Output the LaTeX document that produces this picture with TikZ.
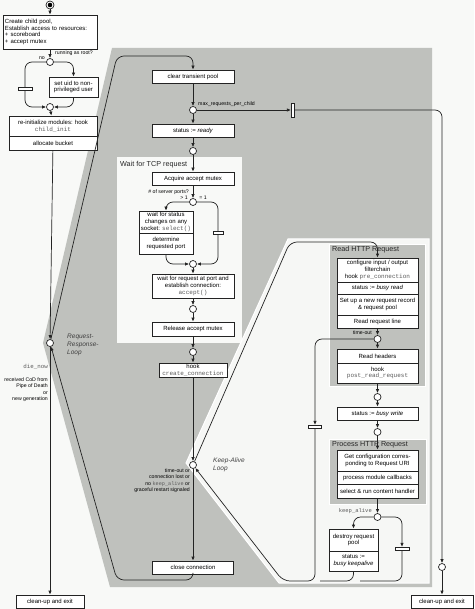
\documentclass[tikz,border=0pt]{standalone}
\usepackage{fontspec}
\setmainfont{Liberation Sans}
\setmonofont{Liberation Mono}
\usetikzlibrary{arrows.meta}
\definecolor{bgc}{RGB}{248,249,247}
\definecolor{rgray}{RGB}{191,193,189}
\definecolor{kawhite}{RGB}{246,247,245}
\definecolor{lnc}{RGB}{35,35,35}
\definecolor{monoc}{RGB}{90,90,90}
\newcommand{\mcode}[1]{{\ttfamily\color{monoc}#1}}
\newcommand{\mkbox}[6]{\node[bx, minimum width={(#4-#2)*1pt}, minimum height={(#5-#3)*1pt}] (#1) at ({(#2+#4)/2},{(#3+#5)/2}) {#6};}
\begin{document}
\begin{tikzpicture}[x=1pt,y=-1pt,
  bx/.style={draw=lnc, fill=white, line width=0.7pt, inner sep=0pt, align=center, font=\fontsize{6}{6.8}\selectfont},
  dec/.style={circle, draw=lnc, fill=white, line width=0.7pt, minimum size=7pt, inner sep=0pt},
  hbar/.style={rectangle, draw=lnc, fill=white, line width=0.6pt, minimum width=14pt, minimum height=3.5pt, inner sep=0pt},
  vbar/.style={rectangle, draw=lnc, fill=white, line width=0.6pt, minimum width=3.5pt, minimum height=14pt, inner sep=0pt},
  con/.style={draw=lnc, line width=0.7pt, rounded corners=7pt},
  arr/.style={con, -{Latex[length=4pt,width=3.4pt]}},
  lbl/.style={font=\fontsize{5.2}{6.4}\selectfont, inner sep=0pt},
  ttl/.style={font=\fontsize{7.2}{8}\selectfont, inner sep=0pt, anchor=west, text=black!85},
  loopl/.style={font=\itshape\fontsize{6.5}{8}\selectfont, inner sep=0pt, anchor=west, text=black!75, align=left}
]
\fill[bgc] (0,0) rectangle (474,609);
\useasboundingbox (0,0) rectangle (474,609);
% regions
\fill[rgray] (112,48) -- (432,48) -- (432,587) -- (110,587) -- (43,343) -- cycle;
\fill[bgc] (117,157) rectangle (242,343);
\filldraw[fill=kawhite, draw=white, line width=1pt] (288,239) -- (429,239) -- (429,583) -- (279,583) -- (186,463) -- cycle;
\filldraw[fill=rgray, draw=white, line width=0.8pt] (329,244) rectangle (425,386);
\filldraw[fill=rgray, draw=white, line width=0.8pt] (329,439) rectangle (426,504);
\node[ttl] (twait) at (120,165) {Wait for TCP request};
\node[ttl] (tread) at (332,250) {Read HTTP Request};
\node[ttl] (tproc) at (332,445) {Process HTTP Request};

% left column
\node[circle, draw=lnc, fill=white, line width=0.7pt, minimum size=8pt, inner sep=0pt] (start) at (50,5) {};
\fill[black] (start.center) circle (2.3);
\node[bx, text width=90pt, align=left, inner xsep=2pt, minimum height=34pt] (create) at (50,32)
  {Create child pool,\\Establish access to resources:\\+ scoreboard\\+ accept mutex};
\node[dec] (rootdec) at (50,62) {};
\node[hbar] (barL) at (25,89) {};
\mkbox{setuid}{49}{77}{98}{97}{set uid to non-\\privileged user}
\node[dec] (merge1) at (50,107) {};
\mkbox{reinit}{9}{116}{97}{136}{re-initialize modules: hook\\\mcode{child\_init}}
\mkbox{alloc}{9}{136}{97}{150}{allocate bucket}
\node[dec] (loopnode) at (50,343) {};
\mkbox{cleanL}{16}{595}{84}{608}{clean-up and exit}

% middle column
\mkbox{clear}{152}{70}{234}{83}{clear transient pool}
\node[dec] (c110) at (193,110) {};
\node[vbar] (barMax) at (293,110) {};
\mkbox{ready}{152}{124}{234}{137}{status := \textit{ready}}
\node[dec] (c151) at (193,151) {};
\mkbox{acquire}{152}{172}{234}{185}{Acquire accept mutex}
\node[dec] (ports) at (193,202) {};
\mkbox{selbox}{139}{211}{193}{233}{wait for status\\changes on any\\socket: \mcode{select()}}
\mkbox{determine}{139}{233}{193}{254}{determine\\requested port}
\node[hbar, minimum width=10pt] (barPorts) at (218,233) {};
\node[dec] (merge2) at (193,264) {};
\mkbox{acceptbox}{152}{274}{234}{298}{wait for request at port and\\establish connection:\\\mcode{accept()}}
\node[dec] (c309) at (193,309) {};
\mkbox{release}{152}{322}{234}{336}{Release accept mutex}
\node[dec] (c352) at (193,352) {};
\mkbox{hookcc}{159}{363}{227}{377}{hook\\\mcode{create\_connection}}
\node[dec] (kanode) at (193,465) {};
\mkbox{close}{152.5}{561}{233.5}{574}{close connection}

% right column
\mkbox{cfg}{337}{258}{418}{282}{configure input / output\\filterchain\\hook \mcode{pre\_connection}}
\mkbox{busyread}{337}{282}{418}{294}{status := \textit{busy read}}
\mkbox{setup}{337}{294}{418}{315}{Set up a new request record\\\& request pool}
\mkbox{readline}{337}{315}{418}{328}{Read request line}
\node[dec] (timeoutc) at (377.5,339) {};
\node[hbar, minimum width=13pt] (barTimeout) at (315,427) {};
\mkbox{readhdr}{337}{349}{418}{363}{Read headers}
\mkbox{hookprr}{337}{363}{418}{383}{hook\\\mcode{post\_read\_request}}
\node[dec] (c397) at (377.5,397) {};
\mkbox{busywrite}{337}{407}{418}{420}{status := \textit{busy write}}
\node[dec] (c432) at (377.5,432) {};
\mkbox{getcfg}{337}{450}{418}{471}{Get configuration corres-\\ponding to Request URI}
\mkbox{modcb}{337}{471}{418}{484}{process module callbacks}
\mkbox{handler}{337}{484}{418}{498}{select \& run content handler}
\node[dec] (kac) at (377.5,517) {};
\mkbox{destroy}{329}{529}{378}{551}{destroy request\\pool}
\mkbox{busykeep}{329}{551}{378}{571}{status :=\\\textit{busy keepalive}}
\node[hbar] (barKA) at (402,549) {};
\node[dec] (exitc) at (442,567) {};
\mkbox{cleanR}{411}{595}{473}{608}{clean-up and exit}

% labels
\node[lbl, anchor=west] (lroot) at (55,53) {running as root?};
\node[lbl, anchor=east] (lno) at (45,58) {no};
\node[lbl, anchor=west] (lmax) at (198,104) {max\_requests\_per\_child};
\node[lbl, anchor=east] (lports) at (189,192) {\# of server ports?};
\node[lbl] (lgt) at (184,198) {> 1};
\node[lbl] (leq) at (203,198) {= 1};
\node[lbl, anchor=east] (ltimeout) at (372,333) {time-out};
\node[lbl, anchor=east, font=\ttfamily\fontsize{5.5}{6}\selectfont, text=monoc] (lka) at (372,511) {keep\_alive};
\node[lbl, anchor=east, font=\ttfamily\fontsize{5.8}{6}\selectfont, text=monoc] (ldie) at (48,367) {die\_now};
\node[lbl, anchor=east, align=right] (lcod) at (48,389.5) {received CoD from\\Pipe of Death\\or\\new generation};
\node[lbl, anchor=east, align=right] (lkaconds) at (190,480.5) {time-out or\\connection lost or\\no \mcode{keep\_alive} or\\graceful restart signaled};
\node[loopl] (lrrl) at (67,345) {Request-\\Response-\\Loop};
\node[loopl] (lkal) at (213,464.5) {Keep-Alive\\Loop};

% connectors left
\draw[arr] (start) -- (create);
\draw[arr] (create) -- (rootdec);
\draw[con] (rootdec) -| (barL);
\draw[arr] (barL) |- (merge1);
\draw[arr] (rootdec) -| (setuid);
\draw[arr] (setuid) |- (merge1);
\draw[arr] (merge1) -- (reinit);
\draw[arr] (alloc) -- (loopnode);
\draw[arr] (loopnode) -- (cleanL);
\draw[arr] (loopnode) -- (117,56) -- (193,56) -- (clear);
% middle
\draw[arr] (clear) -- (c110);
\draw[arr] (c110) -- (ready);
\draw[arr] (c110) -- (barMax);
\draw[arr] (barMax) -- (442,110) -- (exitc);
\draw[arr] (exitc) -- (cleanR);
\draw[arr] (ready) -- (c151);
\draw[arr] (c151) -- (acquire);
\draw[arr] (acquire) -- (ports);
\draw[arr] (ports) -| (selbox);
\draw[con] (ports) -| (barPorts);
\draw[arr] (barPorts) |- (merge2);
\draw[arr] (determine) |- (merge2);
\draw[arr] (merge2) -- (acceptbox);
\draw[arr] (acceptbox) -- (c309);
\draw[arr] (c309) -- (release);
\draw[arr] (release) -- (c352);
\draw[arr] (c352) -- (hookcc);
\draw[arr] (hookcc) -- (kanode);
\draw[arr] (kanode) -- (close);
\draw[arr] (close) -- (193,580) -- (117,580) -- (loopnode);
% right
\draw[arr] (kanode) -- (290,242) -- (377.5,242) -- (cfg);
\draw[arr] (readline) -- (timeoutc);
\draw[arr] (timeoutc) -- (readhdr);
\draw[arr] (timeoutc) -| (barTimeout);
\draw[arr] (barTimeout) -- (315,581) -- (283,581) -- (kanode);
\draw[arr] (hookprr) -- (c397);
\draw[arr] (c397) -- (busywrite);
\draw[arr] (busywrite) -- (c432);
\draw[arr] (c432) -- (getcfg);
\draw[arr] (handler) -- (kac);
\draw[arr] (kac) -| (destroy);
\draw[arr] (kac) -| (barKA);
\draw[con] (busykeep) -- (353.5,581) -- (320,581);
\draw[con] (barKA) -- (402,581) -- (360,581);
\end{tikzpicture}
\end{document}
